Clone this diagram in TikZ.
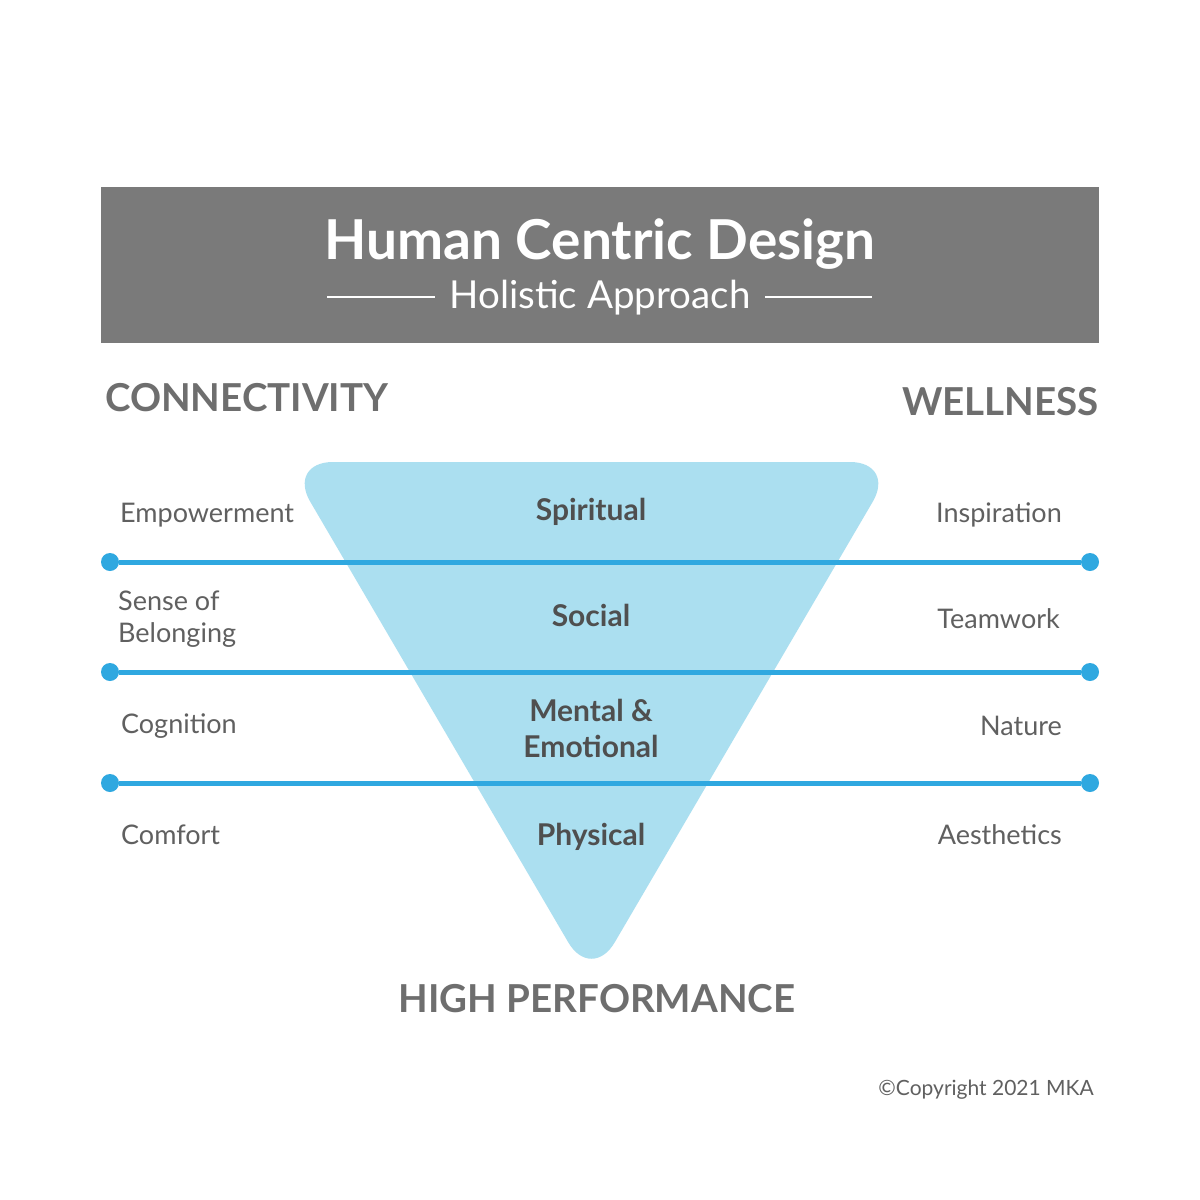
\documentclass[tikz,border=0pt]{standalone}
\usepackage{fontspec}
\setmainfont{Lato}
\definecolor{hdr}{HTML}{7A7A7A}
\definecolor{headtxt}{HTML}{6E6E6E}
\definecolor{lbl}{HTML}{606060}
\definecolor{inner}{HTML}{4F4F4F}
\definecolor{tri}{HTML}{ABDFF0}
\definecolor{bluel}{HTML}{2FA8E0}
\begin{document}
\begin{tikzpicture}[x=1pt,y=-1pt,
  dot/.style={circle,fill=bluel,inner sep=0pt,minimum size=18pt},
  conn/.style={draw=bluel,line width=5pt},
  side/.style={text=lbl,font=\fontsize{27}{32}\selectfont,inner sep=0pt,align=left},
  mid/.style={text=inner,font=\bfseries\fontsize{30}{36}\selectfont,inner sep=0pt,align=center},
  big/.style={text=headtxt,font=\bfseries\fontsize{38.5}{42}\selectfont,inner sep=0pt}]
\useasboundingbox (0,0) rectangle (1200,1200);
\fill[white] (0,0) rectangle (1200,1200);
% header
\fill[hdr] (101,187) rectangle (1099,343);
\node[text=white,font=\bfseries\fontsize{55}{60}\selectfont,inner sep=0pt] (title) at (600,244) {Human Centric Design};
\node[text=white,font=\fontsize{38.5}{44}\selectfont,inner sep=0pt] (sub) at (600,298) {Holistic Approach};
\draw[white,line width=1.8pt] (327,297) -- (435,297);
\draw[white,line width=1.8pt] (765,297) -- (872,297);
% headings
\node[big,anchor=west] (conn) at (105,398) {CONNECTIVITY};
\node[big,anchor=east] (well) at (1099,402) {WELLNESS};
\node[big] (perf) at (597,999) {HIGH PERFORMANCE};
% triangle
\fill[tri,rounded corners=46pt] (287,462) -- (896,462) -- (591.5,982) -- cycle;
% lines
\foreach \i/\y in {1/562,2/672,3/783}{
  \node[dot] (l\i) at (110,\y) {};
  \node[dot] (r\i) at (1090,\y) {};
  \draw[conn] (l\i) -- (r\i);
}
% left labels
\node[side,anchor=west] (emp) at (120,515) {Empowerment};
\node[side,anchor=west] (sob) at (118,619) {Sense of\\Belonging};
\node[side,anchor=west] (cog) at (121,726) {Cognition};
\node[side,anchor=west] (com) at (121,835) {Comfort};
% right labels
\node[side,anchor=east] (ins) at (1062,515) {Inspiration};
\node[side,anchor=east] (tea) at (1060,619) {Teamwork};
\node[side,anchor=east] (nat) at (1062,726) {Nature};
\node[side,anchor=east] (aes) at (1062,835) {Aesthetics};
% inner labels
\node[mid] (spi) at (591,512) {Spiritual};
\node[mid] (soc) at (591,615) {Social};
\node[mid] (men) at (591,728) {Mental \&\\Emotional};
\node[mid] (phy) at (591,837) {Physical};
% copyright
\node[text=lbl,font=\fontsize{21}{24}\selectfont,inner sep=0pt,anchor=east] (copy) at (1094,1090) {©Copyright 2021 MKA};
\end{tikzpicture}
\end{document}
